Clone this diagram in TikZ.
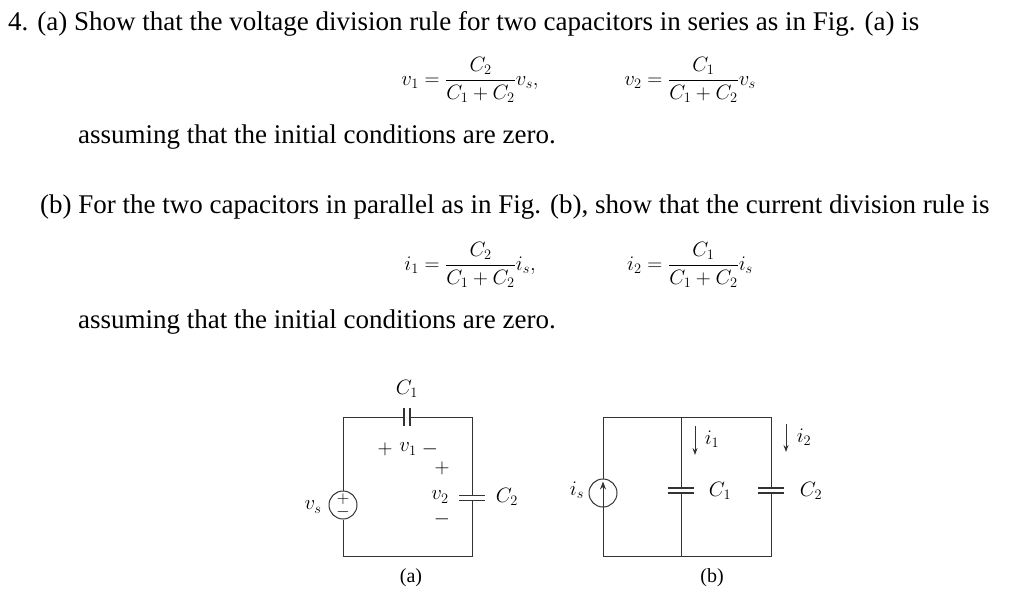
\documentclass[tikz,border=0pt]{standalone}
\usepackage{amsmath}
\usepackage{fontspec}
\setmainfont{Liberation Serif}
\usetikzlibrary{arrows.meta}
\begin{document}
\begin{tikzpicture}[x=1pt,y=-1pt,
  txt/.style={anchor=west,inner sep=0pt,font=\fontsize{27}{30}\selectfont},
  eq/.style={inner sep=0pt,font=\fontsize{22}{26}\selectfont},
  lbl/.style={inner sep=1pt,font=\fontsize{20}{22}\selectfont},
  w/.style={line width=1pt,draw=black!80},
  plate/.style={line width=1.2pt,draw=black!80}]
\useasboundingbox (0,0) rectangle (1024,598);
\node[txt] (t1) at (8,24) {4. (a) Show that the voltage division rule for two capacitors in series as in Fig. (a) is};
\node[eq] (e1) at (470,80) {$v_1=\dfrac{C_2}{C_1+C_2}v_s,$};
\node[eq] (e2) at (690,80) {$v_2=\dfrac{C_1}{C_1+C_2}v_s$};
\node[txt] (t2) at (78,137) {assuming that the initial conditions are zero.};
\node[txt] (t3) at (40,207) {(b) For the two capacitors in parallel as in Fig. (b), show that the current division rule is};
\node[eq] (e3) at (470,265) {$i_1=\dfrac{C_2}{C_1+C_2}i_s,$};
\node[eq] (e4) at (690,265) {$i_2=\dfrac{C_1}{C_1+C_2}i_s$};
\node[txt] (t4) at (78,322) {assuming that the initial conditions are zero.};
% circuit (a)
\coordinate (a1) at (343,417); \coordinate (a2) at (472,417);
\coordinate (a3) at (472,556); \coordinate (a4) at (343,556);
\node[circle,w,minimum size=28pt,inner sep=0pt] (vs) at (343,505) {};
\node[inner sep=0pt,font=\fontsize{16}{16}\selectfont] (pp) at (343,499) {$+$};
\node[inner sep=0pt,font=\fontsize{16}{16}\selectfont] (mm) at (343,512) {$-$};
\draw[w] (vs.north) -- (a1) -- (404,417);
\draw[w] (410,417) -- (a2) -- (472,495.5);
\draw[w] (472,500.5) -- (a3) -- (a4) -- (vs.south);
\draw[plate] (404,408) -- (404,426) (410,408) -- (410,426);
\draw[plate] (459,495.5) -- (485,495.5) (459,500.5) -- (485,500.5);
\node[lbl] (c1a) at (407,389) {$C_1$};
\node[lbl] (vsl) at (313,507) {$v_s$};
\node[lbl] (p1) at (385,449) {$+$};
\node[lbl] (v1) at (408,449) {$v_1$};
\node[lbl] (m1) at (430,449) {$-$};
\node[lbl] (p2) at (442,468) {$+$};
\node[lbl] (v2) at (440,497) {$v_2$};
\node[lbl] (m2) at (442,519) {$-$};
\node[lbl] (c2a) at (507,497) {$C_2$};
\node[lbl] (la) at (411,578) {(a)};
% circuit (b)
\coordinate (b1) at (603,417); \coordinate (b2) at (681,417); \coordinate (b3) at (771,417);
\coordinate (b4) at (603,556); \coordinate (b5) at (681,556); \coordinate (b6) at (771,556);
\node[circle,w,minimum size=28pt,inner sep=0pt] (is) at (603,493) {};
\draw[w,-{Stealth[length=8pt,width=6pt]}] (is.south) -- ([yshift=-3pt]is.north);
\draw[w] (is.north) -- (b1) -- (b3) -- (771,488);
\draw[w] (771,493) -- (b6) -- (b4) -- (is.south);
\draw[w] (b2) -- (681,488) (681,493) -- (b5);
\draw[plate] (668,488) -- (694,488) (668,493) -- (694,493);
\draw[plate] (758,488) -- (784,488) (758,493) -- (784,493);
\coordinate (i1s) at (695,426); \coordinate (i1e) at (695,455);
\coordinate (i2s) at (786,424); \coordinate (i2e) at (786,452);
\draw[w,-{Stealth[length=7pt,width=5pt]}] (i1s) -- (i1e);
\draw[w,-{Stealth[length=7pt,width=5pt]}] (i2s) -- (i2e);
\node[lbl] (i1) at (712,439) {$i_1$};
\node[lbl] (i2) at (804,437) {$i_2$};
\node[lbl] (isl) at (577,490) {$i_s$};
\node[lbl] (c1b) at (720,491) {$C_1$};
\node[lbl] (c2b) at (811,491) {$C_2$};
\node[lbl] (lb) at (712,578) {(b)};
\end{tikzpicture}
\end{document}
